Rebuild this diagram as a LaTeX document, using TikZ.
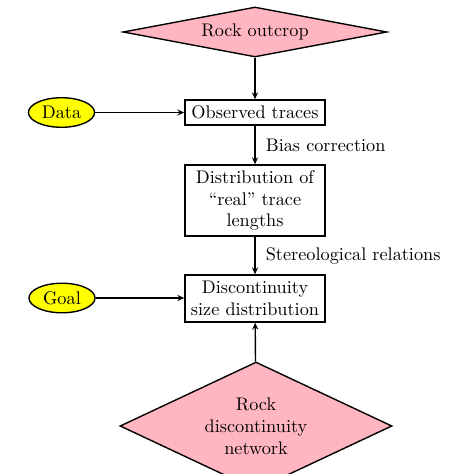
\documentclass[tikz,border=0pt]{standalone}
\usetikzlibrary{shapes.geometric,arrows.meta}
\definecolor{rockpink}{RGB}{255,182,193}
\definecolor{goalyellow}{RGB}{255,255,0}
\begin{document}
\begin{tikzpicture}[x=0.575pt,y=-0.575pt,
  txt/.style={font=\fontsize{10.5}{12.6}\selectfont},
  procbox/.style={txt,draw,thick,fill=white,minimum width=80.5pt,inner sep=1pt,align=center},
  rockdia/.style={txt,draw,thick,fill=rockpink,shape=diamond,inner sep=0pt,align=center},
  oval/.style={txt,draw,thick,fill=goalyellow,ellipse,inner sep=0pt,minimum width=38pt,minimum height=17pt},
  conn/.style={thick,-{Stealth[length=4pt,width=3.5pt]}},
  lbl/.style={txt,right,xshift=2.5pt}]
\useasboundingbox (0,0) rectangle (474,474);
\clip (0,0) rectangle (474,474);
\node[rockdia,minimum width=151.8pt,minimum height=28.75pt,aspect=5.28] (outcrop) at (255,32) {Rock outcrop};
\node[procbox,minimum height=14.4pt] (obs) at (255,112.5) {Observed traces};
\node[procbox,minimum height=40.8pt] (dist) at (255,200.5) {Distribution of\\``real'' trace\\lengths};
\node[procbox,minimum height=27pt] (size) at (255,298.5) {Discontinuity\\size distribution};
\node[rockdia,minimum width=156.4pt,minimum height=73.6pt,aspect=2.125] (net) at (256,426) {Rock\\discontinuity\\network};
\node[oval] (data) at (61.5,112.5) {Data};
\node[oval] (goal) at (62,298) {Goal};
\draw[conn] (outcrop) -- (obs);
\draw[conn] (data) -- (obs);
\draw[conn] (obs) -- node[lbl] {Bias correction} (dist);
\draw[conn] (dist) -- node[lbl] {Stereological relations} (size);
\draw[conn] (goal) -- (goal -| size.west);
\draw[conn] (net) -- (size);
\end{tikzpicture}
\end{document}
